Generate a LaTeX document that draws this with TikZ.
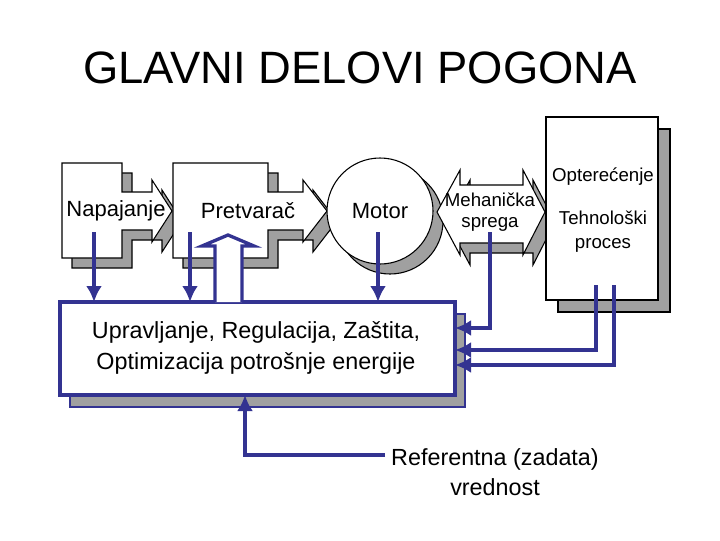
\documentclass[tikz,border=0pt]{standalone}
\usepackage{fontspec}
\setmainfont{Liberation Sans}
\usetikzlibrary{positioning,calc,arrows.meta}
\definecolor{ctrlblue}{RGB}{51,51,145}
\definecolor{shade}{RGB}{160,160,160}
\tikzset{
	front/.style={draw=black,fill=white,line width=0.8pt},
	back/.style={draw=black,fill=shade,line width=0.8pt},
	label/.style={font=\fontsize{16.5}{19}\selectfont,align=center,inner sep=0pt},
	sig/.style={draw=ctrlblue,line width=3pt,-{Latex[length=12pt,width=12pt]}}
}
\begin{document}
\begin{tikzpicture}[x=0.75pt,y=-0.75pt]
\useasboundingbox (0,0) rectangle (720,540);

\node[font=\fontsize{34}{38}\selectfont] (title) at (360,68) {GLAVNI DELOVI POGONA};

% napajanje
\foreach \d/\s in {10/back,0/front}
 \filldraw[\s,shift={(\d,\d)}] (62,163)--(122,163)--(122,192)--(152,192)--(152,180)--(172,211)--(152,242)--(152,230)--(122,230)--(122,258)--(62,258)--cycle;
\node[label] (nap) at (116,211) {Napajanje};

% pretvarac
\foreach \d/\s in {10/back,0/front}
 \filldraw[\s,shift={(\d,\d)}] (173,163)--(268,163)--(268,192)--(303,192)--(303,180)--(327,211)--(303,242)--(303,230)--(268,230)--(268,258)--(173,258)--cycle;
\node[label] (pre) at (248,211) {Pretvarač};

% motor
\filldraw[back] (390,221) circle (53);
\filldraw[front] (380,211) circle (53);
\node[label] (mot) at (380,211) {Motor};

% mehanicka sprega
\foreach \d/\s in {10/back,0/front}
 \filldraw[\s,shift={(\d,\d)}] (437,212)--(460,170)--(460,185)--(523,185)--(523,170)--(545,212)--(523,255)--(523,243)--(460,243)--(460,255)--cycle;
\node[label,font=\fontsize{14}{16}\selectfont] (meh) at (490,212) {Mehanička\\sprega};

% opterecenje
\filldraw[back] (558,129) rectangle (670,312);
\filldraw[front] (546,117) rectangle (658,300);
\node[label,font=\fontsize{14}{16}\selectfont] (opt) at (603,177) {Opterećenje};
\node[label,font=\fontsize{14}{18}\selectfont] (teh) at (603,232) {Tehnološki\\proces};

% upravljanje
\filldraw[back,draw=ctrlblue] (70,314) rectangle (465,407);
\filldraw[front,draw=ctrlblue,line width=2.5pt] (60,302) rectangle (455,395);
\node[label,font=\fontsize{17.5}{23}\selectfont] (upr) at (256,348) {Upravljanje, Regulacija, Zaštita,\\Optimizacija potrošnje energije};

\node[label,font=\fontsize{17.5}{23}\selectfont] (ref) at (495,472) {Referentna (zadata)\\vrednost};

% signals
\coordinate (n1) at (94,232); \coordinate (n2) at (94,302);
\coordinate (p1) at (190,232); \coordinate (p2) at (190,302);
\coordinate (m1) at (378,232); \coordinate (m2) at (378,302);
\draw[sig] (n1)--(n2);
\draw[sig] (p1)--(p2);
\draw[sig] (m1)--(m2);
\filldraw[draw=ctrlblue,fill=white,line width=2.5pt] (215,302)--(215,246)--(202,246)--(228,235)--(254,246)--(242,246)--(242,302);
\coordinate (s1) at (490,232); \coordinate (s2) at (455,328);
\coordinate (o1) at (596,285); \coordinate (o2) at (455,350);
\coordinate (o3) at (614,285); \coordinate (o4) at (455,365);
\draw[sig] (s1)|-(s2);
\draw[sig] (o1)|-(o2);
\draw[sig] (o3)|-(o4);
\coordinate (r1) at (385,455); \coordinate (r2) at (245,395);
\draw[sig] (r1)-|(r2);
\end{tikzpicture}
\end{document}
